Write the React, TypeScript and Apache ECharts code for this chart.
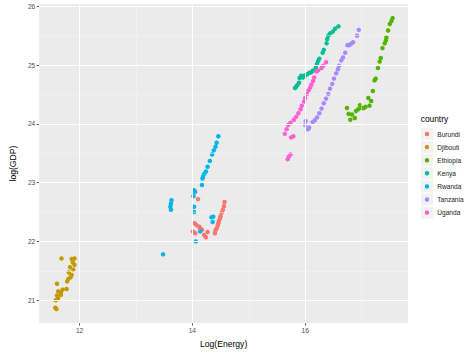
import React, { useEffect, useRef } from "react";
import * as echarts from "echarts";

const countries = ["Burundi", "Djibouti", "Ethiopia", "Kenya", "Rwanda", "Tanzania", "Uganda"];
const colors = ["#F8766D", "#C49A00", "#53B400", "#00C094", "#00B6EB", "#A58AFF", "#FB61D7"];

const xTicks = [12, 14, 16];
const xMinor = [13, 15, 17];
const yTicks = [21, 22, 23, 24, 25, 26];
const yMinor = [21.5, 22.5, 23.5, 24.5, 25.5];

const burundi: [number, number][] = [
  [14.05, 22.84], [14.10, 22.72], [14.57, 22.67], [14.56, 22.60], [14.54, 22.54], [14.52, 22.49],
  [14.50, 22.43], [14.49, 22.39], [14.47, 22.35], [14.46, 22.31], [14.45, 22.27], [14.43, 22.22],
  [14.41, 22.19], [14.40, 22.14], [14.04, 22.31], [14.07, 22.28], [14.12, 22.25], [14.14, 22.22],
  [14.01, 22.17], [14.05, 22.14], [14.21, 22.11], [14.24, 22.07], [14.27, 22.16], [14.17, 22.20],
];
const djibouti: [number, number][] = [
  [11.57, 20.87], [11.59, 20.85], [11.58, 21.0], [11.62, 21.03], [11.6, 21.08], [11.67, 21.09],
  [11.62, 21.15], [11.67, 21.14], [11.7, 21.18], [11.77, 21.19], [11.6, 21.28], [11.78, 21.32],
  [11.8, 21.36], [11.84, 21.39], [11.81, 21.47], [11.86, 21.43], [11.83, 21.56], [11.89, 21.52],
  [11.88, 21.64], [11.91, 21.6], [11.86, 21.7], [11.91, 21.71], [11.68, 21.71],
];
const ethiopia: [number, number][] = [
  [17.55, 25.8], [17.53, 25.75], [17.5, 25.7], [17.47, 25.59], [17.44, 25.47], [17.43, 25.42],
  [17.41, 25.37], [17.37, 25.29], [17.34, 25.12], [17.32, 25.06], [17.29, 24.95], [17.25, 24.77],
  [17.23, 24.74], [17.2, 24.56], [17.12, 24.44], [17.17, 24.39], [17.14, 24.31], [17.07, 24.29],
  [17.04, 24.27], [17.0, 24.27], [16.97, 24.32], [16.94, 24.25], [16.9, 24.22], [16.74, 24.27],
  [16.77, 24.17], [16.83, 24.16], [16.8, 24.07], [16.88, 24.1],
];
const kenya: [number, number][] = [
  [16.59, 25.66], [16.53, 25.62], [16.49, 25.57], [16.44, 25.54], [16.41, 25.5], [16.39, 25.44],
  [16.38, 25.37], [16.33, 25.26], [16.31, 25.21], [16.25, 25.11], [16.23, 25.07], [16.21, 25.02],
  [16.19, 24.96], [16.14, 24.91], [16.11, 24.88], [16.08, 24.87], [16.04, 24.85], [16.01, 24.83],
  [15.99, 24.82], [15.96, 24.79], [15.93, 24.82], [15.9, 24.78], [15.89, 24.7], [15.86, 24.66],
  [15.84, 24.63], [15.82, 24.61],
];
const rwanda: [number, number][] = [
  [14.46, 23.79], [14.43, 23.68], [14.41, 23.61], [14.38, 23.55], [14.35, 23.48], [14.31, 23.37],
  [14.27, 23.27], [14.24, 23.19], [14.21, 23.15], [14.19, 23.11], [14.18, 23.07], [14.17, 22.96],
  [14.03, 22.87], [14.04, 22.84], [14.02, 22.77], [14.03, 22.59], [14.03, 22.5], [14.06, 22.0],
  [13.48, 21.78], [13.63, 22.7], [13.62, 22.64], [13.61, 22.59], [13.62, 22.54], [14.34, 22.41],
  [14.37, 22.42], [14.36, 22.33], [14.14, 22.17],
];
const tanzania: [number, number][] = [
  [16.95, 25.6], [16.92, 25.5], [16.85, 25.39], [16.81, 25.36], [16.78, 25.34], [16.75, 25.34],
  [16.71, 25.21], [16.67, 25.13], [16.64, 25.08], [16.6, 24.99], [16.58, 24.93], [16.55, 24.86],
  [16.51, 24.77], [16.48, 24.68], [16.44, 24.6], [16.41, 24.51], [16.37, 24.43], [16.33, 24.35],
  [16.29, 24.26], [16.25, 24.18], [16.21, 24.11], [16.17, 24.06], [16.13, 24.03], [16.07, 23.94],
  [16.05, 23.91], [16.01, 24.05], [16.0, 23.98],
];
const uganda: [number, number][] = [
  [16.37, 25.05], [16.32, 24.99], [16.29, 24.95], [16.23, 24.91], [16.2, 24.89], [16.16, 24.79],
  [16.14, 24.73], [16.11, 24.67], [16.09, 24.62], [16.06, 24.57], [16.03, 24.51], [16.0, 24.44],
  [15.98, 24.38], [15.94, 24.31], [15.92, 24.25], [15.88, 24.18], [15.84, 24.12], [15.8, 24.07],
  [15.74, 24.02], [15.7, 23.98], [15.67, 23.91], [15.64, 23.83], [15.75, 23.77], [15.79, 23.79],
  [15.74, 23.48], [15.71, 23.44], [15.69, 23.4],
];

const seriesData = [burundi, djibouti, ethiopia, kenya, rwanda, tanzania, uganda];

const FONT = "Liberation Sans, Arial, sans-serif";

export default function App() {
  const ref = useRef<HTMLDivElement>(null);
  useEffect(() => {
    if (!ref.current) return;
    const chart = echarts.init(ref.current, null, { renderer: "svg" });
    const gridLeft = 26, gridTop = 4, gridRight = 66, gridBottom = 25;
    const legendFirst = 134;
    const legendStep = 13.1;
    const itemH = 8;
    const keyRects = countries.map((_, i) => ({
      type: "rect",
      shape: { x: 421, y: legendFirst + i * legendStep - 6, width: 12, height: 12 },
      style: { fill: "#F2F2F2" },
      silent: true,
    }));
    const option: any = {
      animation: false,
      backgroundColor: "#FFFFFF",
      textStyle: { fontFamily: FONT },
      grid: {
        left: gridLeft,
        top: gridTop,
        right: gridRight,
        bottom: gridBottom,
        show: true,
        backgroundColor: "#EBEBEB",
        borderWidth: 0,
      },
      xAxis: {
        type: "value",
        min: 11.285,
        max: 17.823,
        name: "Log(Energy)",
        nameLocation: "middle",
        nameGap: 12,
        nameTextStyle: { fontSize: 8.6, color: "#000000", fontFamily: FONT },
        axisLine: { show: false },
        axisTick: { show: true, length: 2.5, lineStyle: { color: "#333333", width: 0.8 }, customValues: xTicks },
        axisLabel: { show: true, customValues: xTicks, fontSize: 6.6, color: "#4D4D4D", margin: 4, fontFamily: FONT, formatter: (v: number) => String(v) },
        splitLine: { show: false },
      },
      yAxis: {
        type: "value",
        min: 20.61,
        max: 26.04,
        name: "log(GDP)",
        nameLocation: "middle",
        nameRotate: 90,
        nameGap: 18,
        nameTextStyle: { fontSize: 8.6, color: "#000000", fontFamily: FONT },
        axisLine: { show: false },
        axisTick: { show: true, length: 2.5, lineStyle: { color: "#333333", width: 0.8 }, customValues: yTicks },
        axisLabel: { show: true, customValues: yTicks, fontSize: 6.6, color: "#4D4D4D", margin: 4, fontFamily: FONT, formatter: (v: number) => String(v) },
        splitLine: { show: false },
      },
      legend: {
        show: true,
        orient: "vertical",
        left: 424.75,
        top: legendFirst - itemH / 2,
        padding: 0,
        itemGap: legendStep - itemH,
        itemWidth: 4.5,
        itemHeight: itemH,
        icon: "circle",
        data: countries,
        selectedMode: false,
        textStyle: { fontSize: 6.6, lineHeight: itemH, height: itemH, color: "#1A1A1A", fontFamily: FONT, padding: [0, 0, 0, 3] },
      },
      graphic: [
        {
          type: "text",
          left: 420.7,
          top: 115,
          style: { text: "country", fontSize: 8.4, fill: "#000000", fontFamily: FONT },
          silent: true,
        },
        ...keyRects,
      ],
      series: [
        {
          type: "scatter",
          name: "__grid",
          data: [],
          z: 1,
          silent: true,
          markLine: {
            silent: true,
            symbol: "none",
            label: { show: false },
            animation: false,
            data: [
              ...xMinor.map((v) => ({ xAxis: v, lineStyle: { color: "#F5F5F5", width: 0.5, type: "solid" } })),
              ...yMinor.map((v) => ({ yAxis: v, lineStyle: { color: "#F5F5F5", width: 0.5, type: "solid" } })),
              ...xTicks.map((v) => ({ xAxis: v, lineStyle: { color: "#FFFFFF", width: 1, type: "solid" } })),
              ...yTicks.map((v) => ({ yAxis: v, lineStyle: { color: "#FFFFFF", width: 1, type: "solid" } })),
            ],
          },
        },
        ...countries.map((name, i) => ({
          type: "scatter",
          name,
          data: seriesData[i],
          symbol: "circle",
          symbolSize: 4.5,
          z: 2,
          itemStyle: { color: colors[i], opacity: 1 },
        })),
      ],
    };
    chart.setOption(option);
    return () => chart.dispose();
  }, []);
  return <div ref={ref} style={{ width: 474, height: 353, position: "absolute", left: 0, top: 0 }} />;
}
